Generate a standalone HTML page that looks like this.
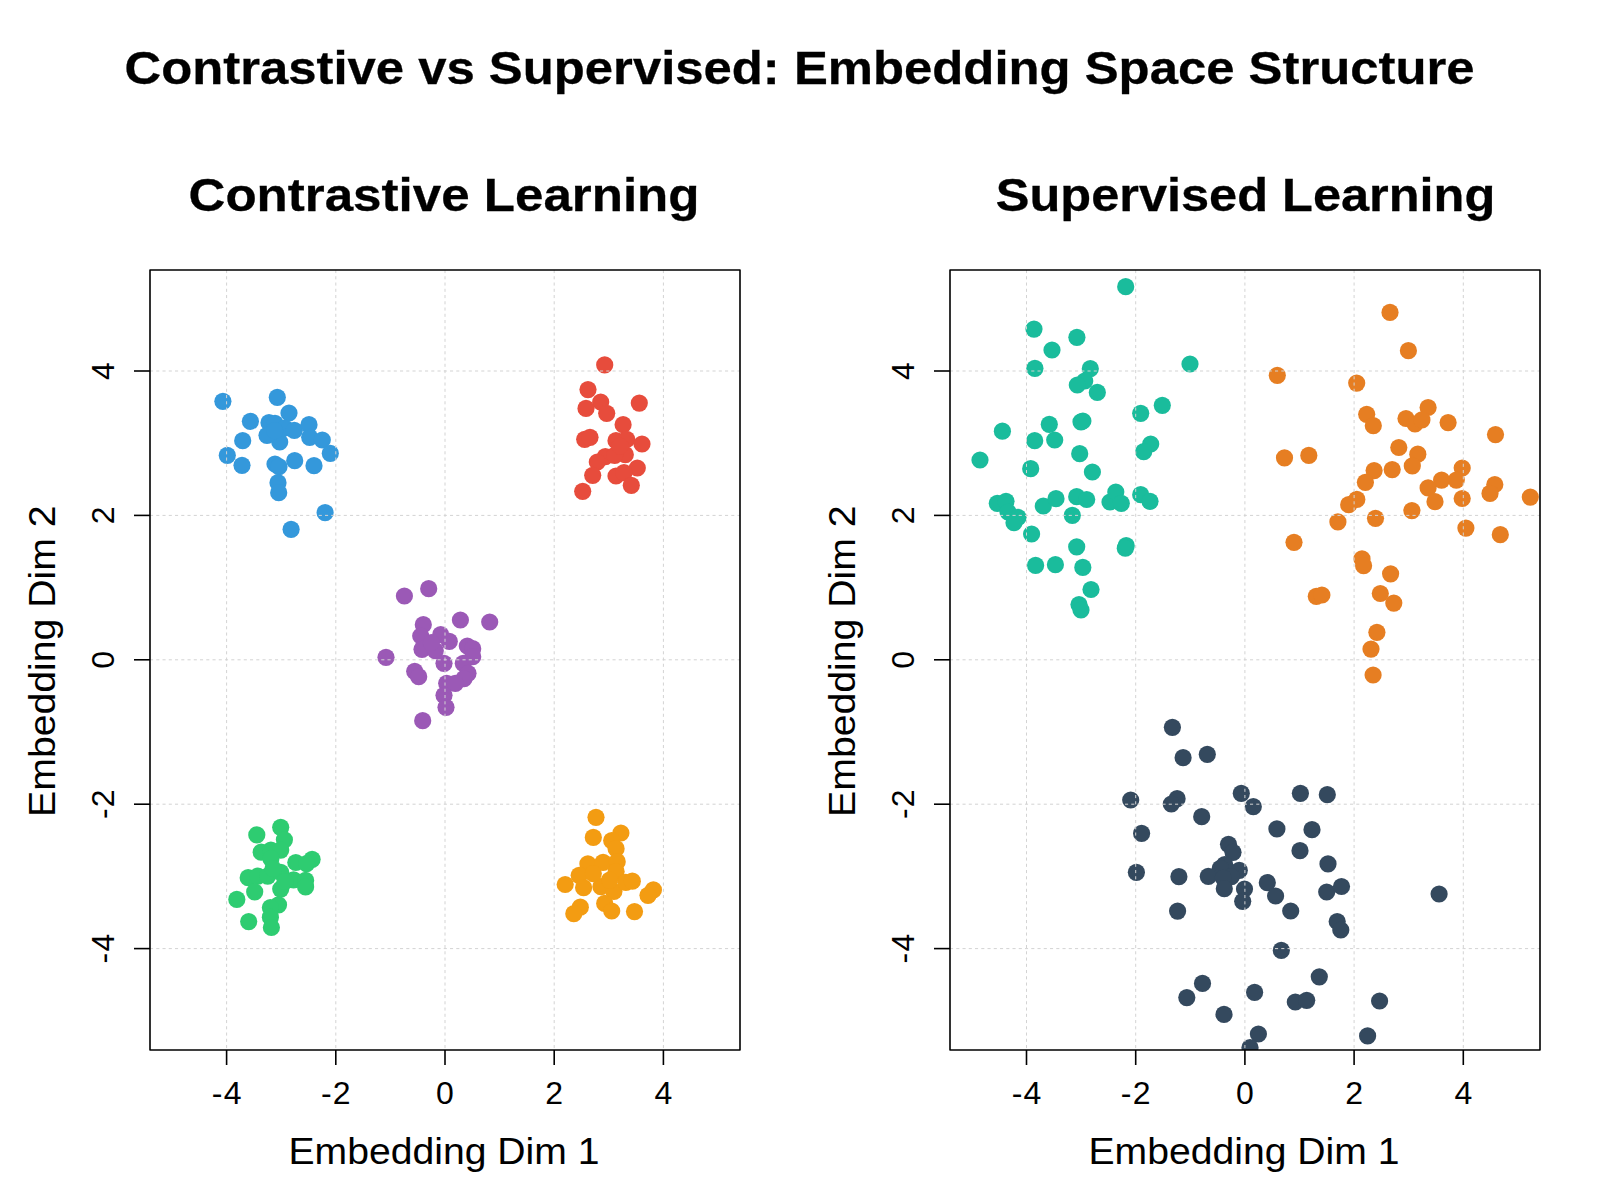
<!DOCTYPE html>
<html><head><meta charset="utf-8"><style>
html,body{margin:0;padding:0;background:#fff;width:1600px;height:1200px;overflow:hidden}
svg{display:block}
text{font-family:"Liberation Sans",sans-serif;fill:#000}
</style></head><body>
<svg width="1600" height="1200" viewBox="0 0 1600 1200">
<defs><clipPath id="c0"><rect x="150" y="270" width="590" height="780"/></clipPath><clipPath id="c800"><rect x="950" y="270" width="590" height="780"/></clipPath></defs>
<rect width="1600" height="1200" fill="#fff"/>
<text x="124.5" y="83.75" font-size="47" font-weight="bold" stroke="#000" stroke-width="0.3" textLength="1350" lengthAdjust="spacingAndGlyphs">Contrastive vs Supervised: Embedding Space Structure</text>
<text x="188.5" y="210.75" font-size="46.5" font-weight="bold" stroke="#000" stroke-width="0.3" textLength="511" lengthAdjust="spacingAndGlyphs">Contrastive Learning</text>
<text x="995.8" y="210.75" font-size="46.5" font-weight="bold" stroke="#000" stroke-width="0.3" textLength="499.5" lengthAdjust="spacingAndGlyphs">Supervised Learning</text>
<text x="288.5" y="1164.25" font-size="37" textLength="311" lengthAdjust="spacingAndGlyphs">Embedding Dim 1</text>
<text x="1088.5" y="1164.25" font-size="37" textLength="311" lengthAdjust="spacingAndGlyphs">Embedding Dim 1</text>
<text transform="translate(54.6,816.9) rotate(-90)" font-size="37" textLength="311.5" lengthAdjust="spacingAndGlyphs">Embedding Dim 2</text>
<text transform="translate(854.6,816.9) rotate(-90)" font-size="37" textLength="311.5" lengthAdjust="spacingAndGlyphs">Embedding Dim 2</text>
<g fill="#3498DB" clip-path="url(#c0)"><circle cx="222.9" cy="401.3" r="8.6"/><circle cx="277.3" cy="397.3" r="8.6"/><circle cx="289" cy="413" r="8.6"/><circle cx="250.4" cy="421.3" r="8.6"/><circle cx="269" cy="422.7" r="8.6"/><circle cx="275" cy="423.3" r="8.6"/><circle cx="267" cy="435.3" r="8.6"/><circle cx="279.7" cy="442" r="8.6"/><circle cx="285" cy="428" r="8.6"/><circle cx="294.3" cy="430.3" r="8.6"/><circle cx="309" cy="424.7" r="8.6"/><circle cx="309.7" cy="437.3" r="8.6"/><circle cx="322.3" cy="440" r="8.6"/><circle cx="330.3" cy="453.3" r="8.6"/><circle cx="242.7" cy="440.7" r="8.6"/><circle cx="227.3" cy="455.3" r="8.6"/><circle cx="242" cy="465.3" r="8.6"/><circle cx="275" cy="464" r="8.6"/><circle cx="279" cy="466.7" r="8.6"/><circle cx="294.7" cy="460.7" r="8.6"/><circle cx="314" cy="465.7" r="8.6"/><circle cx="278" cy="482.7" r="8.6"/><circle cx="278.7" cy="492.7" r="8.6"/><circle cx="325.1" cy="512.7" r="8.6"/><circle cx="291.1" cy="529.3" r="8.6"/><circle cx="274.7" cy="430.7" r="8.6"/></g>
<g fill="#E74C3C" clip-path="url(#c0)"><circle cx="604.7" cy="364.9" r="8.6"/><circle cx="588" cy="389.6" r="8.6"/><circle cx="600.7" cy="402" r="8.6"/><circle cx="586" cy="408.4" r="8.6"/><circle cx="606.7" cy="413.3" r="8.6"/><circle cx="639.3" cy="403.1" r="8.6"/><circle cx="623.1" cy="424.7" r="8.6"/><circle cx="584.7" cy="439.3" r="8.6"/><circle cx="590" cy="437.3" r="8.6"/><circle cx="616" cy="440.7" r="8.6"/><circle cx="626.7" cy="439.3" r="8.6"/><circle cx="642" cy="444" r="8.6"/><circle cx="625.3" cy="454.7" r="8.6"/><circle cx="605.3" cy="456.7" r="8.6"/><circle cx="597.3" cy="462" r="8.6"/><circle cx="614.7" cy="455.3" r="8.6"/><circle cx="637.3" cy="468" r="8.6"/><circle cx="592.7" cy="475.3" r="8.6"/><circle cx="616" cy="476" r="8.6"/><circle cx="624" cy="472.7" r="8.6"/><circle cx="631.3" cy="485.3" r="8.6"/><circle cx="582.7" cy="491.3" r="8.6"/><circle cx="620" cy="446" r="8.6"/></g>
<g fill="#9B59B6" clip-path="url(#c0)"><circle cx="404.4" cy="596" r="8.6"/><circle cx="428.7" cy="588.7" r="8.6"/><circle cx="460.4" cy="620" r="8.6"/><circle cx="489.7" cy="622" r="8.6"/><circle cx="423.3" cy="624.7" r="8.6"/><circle cx="420.7" cy="636" r="8.6"/><circle cx="440.7" cy="634.7" r="8.6"/><circle cx="449.3" cy="641.3" r="8.6"/><circle cx="422" cy="649.3" r="8.6"/><circle cx="435.3" cy="650.7" r="8.6"/><circle cx="467.3" cy="646" r="8.6"/><circle cx="472.7" cy="648.7" r="8.6"/><circle cx="472.7" cy="656.7" r="8.6"/><circle cx="386" cy="657.3" r="8.6"/><circle cx="444" cy="663.3" r="8.6"/><circle cx="463.3" cy="663.3" r="8.6"/><circle cx="414.7" cy="671.3" r="8.6"/><circle cx="418.7" cy="676.7" r="8.6"/><circle cx="468" cy="673.3" r="8.6"/><circle cx="464" cy="678.7" r="8.6"/><circle cx="446.7" cy="683.3" r="8.6"/><circle cx="455.3" cy="683.3" r="8.6"/><circle cx="444" cy="695.3" r="8.6"/><circle cx="446" cy="707.3" r="8.6"/><circle cx="422.7" cy="720.7" r="8.6"/><circle cx="431.3" cy="642.7" r="8.6"/></g>
<g fill="#2ECC71" clip-path="url(#c0)"><circle cx="280.7" cy="827.3" r="8.6"/><circle cx="256.8" cy="834.9" r="8.6"/><circle cx="284.4" cy="839.8" r="8.6"/><circle cx="261.2" cy="852.2" r="8.6"/><circle cx="270.9" cy="850.1" r="8.6"/><circle cx="280.7" cy="850.1" r="8.6"/><circle cx="270.9" cy="858.7" r="8.6"/><circle cx="295.8" cy="862.5" r="8.6"/><circle cx="312.1" cy="859.3" r="8.6"/><circle cx="306.6" cy="863.6" r="8.6"/><circle cx="248.2" cy="877.7" r="8.6"/><circle cx="257.9" cy="876.1" r="8.6"/><circle cx="267.7" cy="876.1" r="8.6"/><circle cx="280.7" cy="872.3" r="8.6"/><circle cx="293.6" cy="879.9" r="8.6"/><circle cx="305.6" cy="880.4" r="8.6"/><circle cx="305.6" cy="886.9" r="8.6"/><circle cx="254.7" cy="891.8" r="8.6"/><circle cx="280.7" cy="889.1" r="8.6"/><circle cx="236.8" cy="899.4" r="8.6"/><circle cx="278.5" cy="904.8" r="8.6"/><circle cx="270.4" cy="907.5" r="8.6"/><circle cx="270.4" cy="917.2" r="8.6"/><circle cx="248.7" cy="921.6" r="8.6"/><circle cx="271.4" cy="927.5" r="8.6"/><circle cx="285" cy="881.5" r="8.6"/><circle cx="273" cy="868.5" r="8.6"/></g>
<g fill="#F39C12" clip-path="url(#c0)"><circle cx="596" cy="817.3" r="8.6"/><circle cx="593.3" cy="837.4" r="8.6"/><circle cx="620.9" cy="833" r="8.6"/><circle cx="611.7" cy="840.6" r="8.6"/><circle cx="616.1" cy="848.7" r="8.6"/><circle cx="587.9" cy="863.9" r="8.6"/><circle cx="603.1" cy="862.3" r="8.6"/><circle cx="617.2" cy="861.7" r="8.6"/><circle cx="616.1" cy="871.5" r="8.6"/><circle cx="579.2" cy="875.3" r="8.6"/><circle cx="565.2" cy="884.5" r="8.6"/><circle cx="583.6" cy="887.7" r="8.6"/><circle cx="600.9" cy="886.6" r="8.6"/><circle cx="613.9" cy="891.5" r="8.6"/><circle cx="625.8" cy="882.3" r="8.6"/><circle cx="632.3" cy="881.2" r="8.6"/><circle cx="609.6" cy="880.1" r="8.6"/><circle cx="653.4" cy="889.9" r="8.6"/><circle cx="648" cy="895.3" r="8.6"/><circle cx="580.3" cy="907.2" r="8.6"/><circle cx="573.8" cy="913.7" r="8.6"/><circle cx="604.7" cy="903.4" r="8.6"/><circle cx="611.7" cy="911" r="8.6"/><circle cx="634.5" cy="911.6" r="8.6"/><circle cx="593.3" cy="873.6" r="8.6"/></g>
<g fill="#1ABC9C" clip-path="url(#c800)"><circle cx="1125.7" cy="286.7" r="8.6"/><circle cx="1034" cy="329.1" r="8.6"/><circle cx="1076.9" cy="337.3" r="8.6"/><circle cx="1052" cy="350" r="8.6"/><circle cx="1034.9" cy="368.3" r="8.6"/><circle cx="1090.3" cy="368.7" r="8.6"/><circle cx="1084.7" cy="381" r="8.6"/><circle cx="1077.3" cy="385" r="8.6"/><circle cx="1097.3" cy="392.4" r="8.6"/><circle cx="1190" cy="364" r="8.6"/><circle cx="1162.3" cy="405.3" r="8.6"/><circle cx="1140.7" cy="413.3" r="8.6"/><circle cx="1049.3" cy="424.3" r="8.6"/><circle cx="1081" cy="421.8" r="8.6"/><circle cx="1002.4" cy="431.2" r="8.6"/><circle cx="1034.7" cy="440.7" r="8.6"/><circle cx="1054.7" cy="440" r="8.6"/><circle cx="980" cy="460" r="8.6"/><circle cx="1079.7" cy="453.7" r="8.6"/><circle cx="1030.7" cy="468.7" r="8.6"/><circle cx="1092.4" cy="472" r="8.6"/><circle cx="1150.7" cy="444" r="8.6"/><circle cx="1143.7" cy="451.7" r="8.6"/><circle cx="997.3" cy="503.3" r="8.6"/><circle cx="1006" cy="501.3" r="8.6"/><circle cx="1008" cy="512" r="8.6"/><circle cx="1018" cy="517.3" r="8.6"/><circle cx="1014" cy="522.7" r="8.6"/><circle cx="1043.3" cy="506" r="8.6"/><circle cx="1056" cy="498.7" r="8.6"/><circle cx="1076.7" cy="496.7" r="8.6"/><circle cx="1086.7" cy="499.5" r="8.6"/><circle cx="1072.3" cy="515.3" r="8.6"/><circle cx="1110" cy="502" r="8.6"/><circle cx="1115.8" cy="492" r="8.6"/><circle cx="1121.3" cy="503.3" r="8.6"/><circle cx="1140.7" cy="494.7" r="8.6"/><circle cx="1150" cy="501.3" r="8.6"/><circle cx="1031.6" cy="534" r="8.6"/><circle cx="1076.7" cy="546.8" r="8.6"/><circle cx="1126.2" cy="545.7" r="8.6"/><circle cx="1125.3" cy="548.2" r="8.6"/><circle cx="1035.6" cy="565.4" r="8.6"/><circle cx="1055.4" cy="564.7" r="8.6"/><circle cx="1082.8" cy="567.4" r="8.6"/><circle cx="1091" cy="589.5" r="8.6"/><circle cx="1079" cy="604.5" r="8.6"/><circle cx="1081" cy="610" r="8.6"/><circle cx="1082.9" cy="421" r="8.6"/></g>
<g fill="#E67E22" clip-path="url(#c800)"><circle cx="1390" cy="312.4" r="8.6"/><circle cx="1408.4" cy="350.7" r="8.6"/><circle cx="1277.3" cy="375.3" r="8.6"/><circle cx="1356.7" cy="383.1" r="8.6"/><circle cx="1366.7" cy="414.3" r="8.6"/><circle cx="1373.3" cy="425.7" r="8.6"/><circle cx="1406" cy="418.5" r="8.6"/><circle cx="1415" cy="424" r="8.6"/><circle cx="1428.1" cy="407.5" r="8.6"/><circle cx="1421.9" cy="419.9" r="8.6"/><circle cx="1448.1" cy="422.6" r="8.6"/><circle cx="1495.5" cy="434.6" r="8.6"/><circle cx="1398.8" cy="447.5" r="8.6"/><circle cx="1417.8" cy="454.2" r="8.6"/><circle cx="1412.3" cy="465.9" r="8.6"/><circle cx="1392.2" cy="469.6" r="8.6"/><circle cx="1374.1" cy="470.6" r="8.6"/><circle cx="1462.2" cy="468" r="8.6"/><circle cx="1456.3" cy="480.1" r="8.6"/><circle cx="1441.6" cy="480.1" r="8.6"/><circle cx="1428.1" cy="487.9" r="8.6"/><circle cx="1435" cy="501.7" r="8.6"/><circle cx="1462.2" cy="498.5" r="8.6"/><circle cx="1494.8" cy="484.5" r="8.6"/><circle cx="1490" cy="493.4" r="8.6"/><circle cx="1530.3" cy="497.1" r="8.6"/><circle cx="1411.9" cy="510.6" r="8.6"/><circle cx="1465.9" cy="528.1" r="8.6"/><circle cx="1500.3" cy="534.7" r="8.6"/><circle cx="1284.5" cy="457.8" r="8.6"/><circle cx="1308.8" cy="455.4" r="8.6"/><circle cx="1365.4" cy="482.3" r="8.6"/><circle cx="1356.8" cy="499.4" r="8.6"/><circle cx="1348.7" cy="504.7" r="8.6"/><circle cx="1337.9" cy="521.9" r="8.6"/><circle cx="1375.5" cy="518.3" r="8.6"/><circle cx="1294" cy="542.3" r="8.6"/><circle cx="1362" cy="558.9" r="8.6"/><circle cx="1363.6" cy="565.7" r="8.6"/><circle cx="1390.6" cy="573.8" r="8.6"/><circle cx="1316.3" cy="596.3" r="8.6"/><circle cx="1321.9" cy="595" r="8.6"/><circle cx="1380.3" cy="593.5" r="8.6"/><circle cx="1393.8" cy="603.1" r="8.6"/><circle cx="1376.9" cy="632.3" r="8.6"/><circle cx="1371" cy="649.1" r="8.6"/><circle cx="1373.1" cy="675" r="8.6"/></g>
<g fill="#34495E" clip-path="url(#c800)"><circle cx="1172.4" cy="727.3" r="8.6"/><circle cx="1183.1" cy="757.7" r="8.6"/><circle cx="1207.3" cy="754.3" r="8.6"/><circle cx="1130.7" cy="800" r="8.6"/><circle cx="1177.1" cy="798.7" r="8.6"/><circle cx="1171.3" cy="804" r="8.6"/><circle cx="1241.3" cy="793.3" r="8.6"/><circle cx="1253.3" cy="806.7" r="8.6"/><circle cx="1201.7" cy="816.7" r="8.6"/><circle cx="1141.6" cy="833.3" r="8.6"/><circle cx="1228.5" cy="844.3" r="8.6"/><circle cx="1233" cy="852.3" r="8.6"/><circle cx="1224.7" cy="864.7" r="8.6"/><circle cx="1220.3" cy="868.3" r="8.6"/><circle cx="1208.3" cy="876.3" r="8.6"/><circle cx="1239.3" cy="870.3" r="8.6"/><circle cx="1231.3" cy="876.7" r="8.6"/><circle cx="1223.3" cy="878" r="8.6"/><circle cx="1224.3" cy="888.7" r="8.6"/><circle cx="1244.5" cy="889" r="8.6"/><circle cx="1242.7" cy="901.3" r="8.6"/><circle cx="1267.3" cy="882.7" r="8.6"/><circle cx="1136.4" cy="872.3" r="8.6"/><circle cx="1178.9" cy="876.7" r="8.6"/><circle cx="1177.6" cy="911.1" r="8.6"/><circle cx="1300.4" cy="793.3" r="8.6"/><circle cx="1327.3" cy="794.7" r="8.6"/><circle cx="1276.9" cy="828.9" r="8.6"/><circle cx="1312" cy="829.7" r="8.6"/><circle cx="1300" cy="850.7" r="8.6"/><circle cx="1328" cy="863.9" r="8.6"/><circle cx="1275.6" cy="896" r="8.6"/><circle cx="1326.7" cy="892" r="8.6"/><circle cx="1341.5" cy="886.5" r="8.6"/><circle cx="1290.7" cy="911" r="8.6"/><circle cx="1337.2" cy="921.5" r="8.6"/><circle cx="1340.8" cy="930" r="8.6"/><circle cx="1439.1" cy="894" r="8.6"/><circle cx="1281.3" cy="950.4" r="8.6"/><circle cx="1202.5" cy="983.4" r="8.6"/><circle cx="1186.8" cy="997.6" r="8.6"/><circle cx="1254.6" cy="992.3" r="8.6"/><circle cx="1319.3" cy="976.8" r="8.6"/><circle cx="1379.6" cy="1001" r="8.6"/><circle cx="1295.3" cy="1002" r="8.6"/><circle cx="1306.7" cy="1000.3" r="8.6"/><circle cx="1224" cy="1014.4" r="8.6"/><circle cx="1258.4" cy="1034" r="8.6"/><circle cx="1250" cy="1047.5" r="8.6"/><circle cx="1367.6" cy="1035.9" r="8.6"/></g>
<g stroke="#d3d3d3" stroke-width="1" stroke-dasharray="3.1,3.15"><line x1="226.6" y1="270" x2="226.6" y2="1050"/>
<line x1="150" y1="948.6" x2="740" y2="948.6"/>
<line x1="335.8" y1="270" x2="335.8" y2="1050"/>
<line x1="150" y1="804.2" x2="740" y2="804.2"/>
<line x1="445.0" y1="270" x2="445.0" y2="1050"/>
<line x1="150" y1="659.8" x2="740" y2="659.8"/>
<line x1="554.2" y1="270" x2="554.2" y2="1050"/>
<line x1="150" y1="515.4" x2="740" y2="515.4"/>
<line x1="663.4" y1="270" x2="663.4" y2="1050"/>
<line x1="150" y1="371.0" x2="740" y2="371.0"/></g>
<g stroke="#d3d3d3" stroke-width="1" stroke-dasharray="3.1,3.15"><line x1="1026.5" y1="270" x2="1026.5" y2="1050"/>
<line x1="950" y1="948.6" x2="1540" y2="948.6"/>
<line x1="1135.7" y1="270" x2="1135.7" y2="1050"/>
<line x1="950" y1="804.2" x2="1540" y2="804.2"/>
<line x1="1244.9" y1="270" x2="1244.9" y2="1050"/>
<line x1="950" y1="659.8" x2="1540" y2="659.8"/>
<line x1="1354.1" y1="270" x2="1354.1" y2="1050"/>
<line x1="950" y1="515.4" x2="1540" y2="515.4"/>
<line x1="1463.3" y1="270" x2="1463.3" y2="1050"/>
<line x1="950" y1="371.0" x2="1540" y2="371.0"/></g>
<rect x="150" y="270" width="590" height="780" fill="none" stroke="#000" stroke-linejoin="round" stroke-width="1.6"/>
<line x1="226.6" y1="1050" x2="226.6" y2="1065" stroke="#000" stroke-width="1.6"/>
<text x="226.6" y="1104" font-size="32" text-anchor="middle">-<tspan dx="1.2">4</tspan></text>
<line x1="134" y1="948.6" x2="150" y2="948.6" stroke="#000" stroke-width="1.6"/>
<text transform="translate(113.5,948.6) rotate(-90)" font-size="32" text-anchor="middle">-<tspan dx="1.2">4</tspan></text>
<line x1="335.8" y1="1050" x2="335.8" y2="1065" stroke="#000" stroke-width="1.6"/>
<text x="335.8" y="1104" font-size="32" text-anchor="middle">-<tspan dx="1.2">2</tspan></text>
<line x1="134" y1="804.2" x2="150" y2="804.2" stroke="#000" stroke-width="1.6"/>
<text transform="translate(113.5,804.2) rotate(-90)" font-size="32" text-anchor="middle">-<tspan dx="1.2">2</tspan></text>
<line x1="445.0" y1="1050" x2="445.0" y2="1065" stroke="#000" stroke-width="1.6"/>
<text x="445.0" y="1104" font-size="32" text-anchor="middle">0</text>
<line x1="134" y1="659.8" x2="150" y2="659.8" stroke="#000" stroke-width="1.6"/>
<text transform="translate(113.5,659.8) rotate(-90)" font-size="32" text-anchor="middle">0</text>
<line x1="554.2" y1="1050" x2="554.2" y2="1065" stroke="#000" stroke-width="1.6"/>
<text x="554.2" y="1104" font-size="32" text-anchor="middle">2</text>
<line x1="134" y1="515.4" x2="150" y2="515.4" stroke="#000" stroke-width="1.6"/>
<text transform="translate(113.5,515.4) rotate(-90)" font-size="32" text-anchor="middle">2</text>
<line x1="663.4" y1="1050" x2="663.4" y2="1065" stroke="#000" stroke-width="1.6"/>
<text x="663.4" y="1104" font-size="32" text-anchor="middle">4</text>
<line x1="134" y1="371.0" x2="150" y2="371.0" stroke="#000" stroke-width="1.6"/>
<text transform="translate(113.5,371.0) rotate(-90)" font-size="32" text-anchor="middle">4</text>
<rect x="950" y="270" width="590" height="780" fill="none" stroke="#000" stroke-linejoin="round" stroke-width="1.6"/>
<line x1="1026.5" y1="1050" x2="1026.5" y2="1065" stroke="#000" stroke-width="1.6"/>
<text x="1026.5" y="1104" font-size="32" text-anchor="middle">-<tspan dx="1.2">4</tspan></text>
<line x1="934" y1="948.6" x2="950" y2="948.6" stroke="#000" stroke-width="1.6"/>
<text transform="translate(913.5,948.6) rotate(-90)" font-size="32" text-anchor="middle">-<tspan dx="1.2">4</tspan></text>
<line x1="1135.7" y1="1050" x2="1135.7" y2="1065" stroke="#000" stroke-width="1.6"/>
<text x="1135.7" y="1104" font-size="32" text-anchor="middle">-<tspan dx="1.2">2</tspan></text>
<line x1="934" y1="804.2" x2="950" y2="804.2" stroke="#000" stroke-width="1.6"/>
<text transform="translate(913.5,804.2) rotate(-90)" font-size="32" text-anchor="middle">-<tspan dx="1.2">2</tspan></text>
<line x1="1244.9" y1="1050" x2="1244.9" y2="1065" stroke="#000" stroke-width="1.6"/>
<text x="1244.9" y="1104" font-size="32" text-anchor="middle">0</text>
<line x1="934" y1="659.8" x2="950" y2="659.8" stroke="#000" stroke-width="1.6"/>
<text transform="translate(913.5,659.8) rotate(-90)" font-size="32" text-anchor="middle">0</text>
<line x1="1354.1" y1="1050" x2="1354.1" y2="1065" stroke="#000" stroke-width="1.6"/>
<text x="1354.1" y="1104" font-size="32" text-anchor="middle">2</text>
<line x1="934" y1="515.4" x2="950" y2="515.4" stroke="#000" stroke-width="1.6"/>
<text transform="translate(913.5,515.4) rotate(-90)" font-size="32" text-anchor="middle">2</text>
<line x1="1463.3" y1="1050" x2="1463.3" y2="1065" stroke="#000" stroke-width="1.6"/>
<text x="1463.3" y="1104" font-size="32" text-anchor="middle">4</text>
<line x1="934" y1="371.0" x2="950" y2="371.0" stroke="#000" stroke-width="1.6"/>
<text transform="translate(913.5,371.0) rotate(-90)" font-size="32" text-anchor="middle">4</text>
</svg>
</body></html>
